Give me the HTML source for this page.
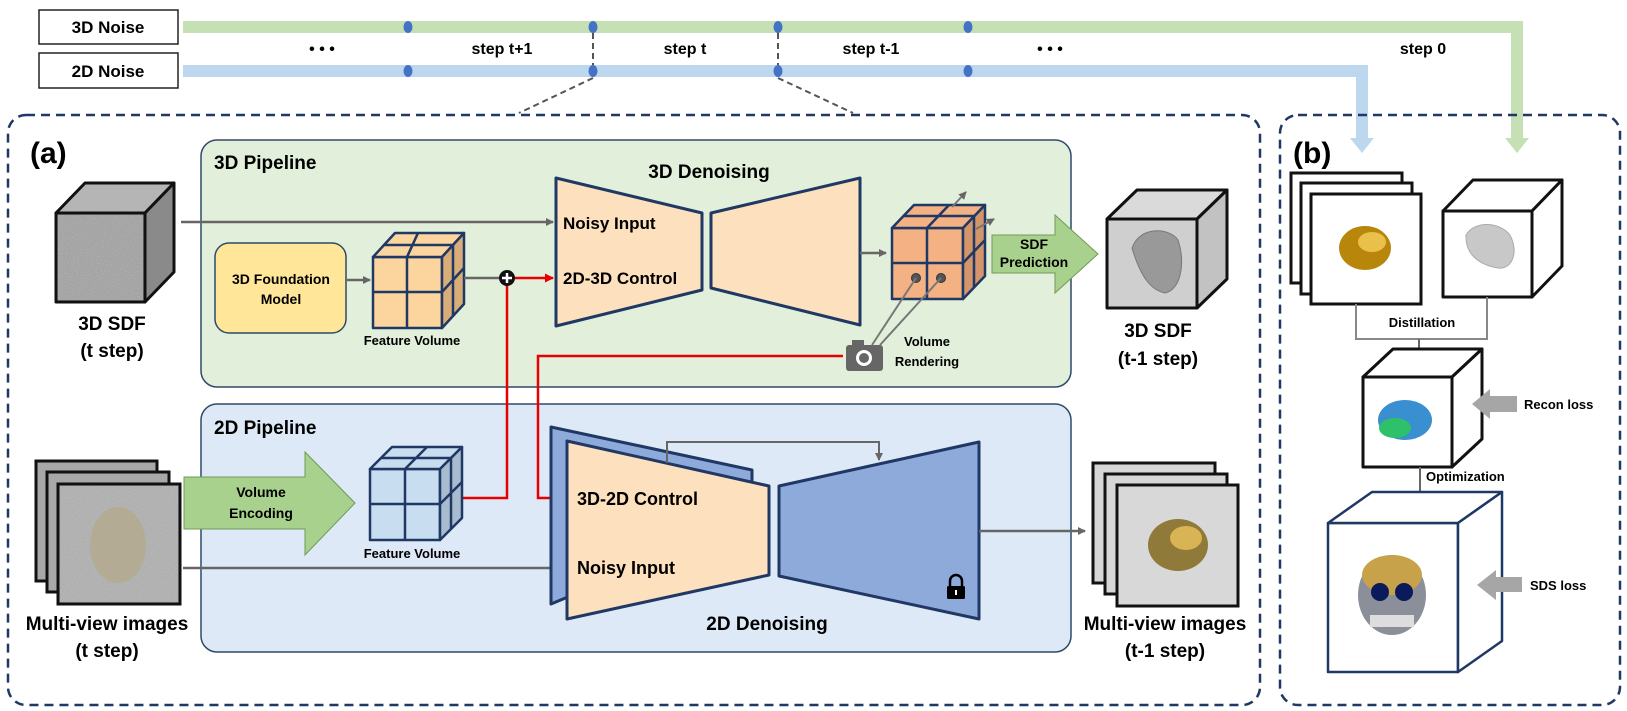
<!DOCTYPE html>
<html><head><meta charset="utf-8"><style>
html,body{margin:0;padding:0;background:#fff;}
svg{display:block;font-family:"Liberation Sans",sans-serif;font-weight:bold;}
</style></head><body>
<svg width="1627" height="711" viewBox="0 0 1627 711" xmlns="http://www.w3.org/2000/svg">
<defs>
<filter id="noise" x="0" y="0" width="100%" height="100%">
<feTurbulence type="fractalNoise" baseFrequency="0.9" numOctaves="2" seed="3"/>
<feColorMatrix type="matrix" values="0 0 0 0 0.55  0 0 0 0 0.55  0 0 0 0 0.55  0 0 0 -1.4 1.3"/>
</filter>
<marker id="ag" markerWidth="8" markerHeight="8" refX="7" refY="4" orient="auto" markerUnits="userSpaceOnUse"><path d="M0,0 L8,4 L0,8 z" fill="#666"/></marker>
<marker id="ar" markerWidth="9" markerHeight="9" refX="8" refY="4.5" orient="auto" markerUnits="userSpaceOnUse"><path d="M0,0 L9,4.5 L0,9 z" fill="#e60000"/></marker>
</defs>

<!-- timeline -->
<rect x="39" y="10" width="139" height="34" fill="#fff" stroke="#222" stroke-width="1.5"/>
<text x="108" y="33" font-size="17" text-anchor="middle">3D Noise</text>
<rect x="39" y="53" width="139" height="35" fill="#fff" stroke="#222" stroke-width="1.5"/>
<text x="108" y="77" font-size="17" text-anchor="middle">2D Noise</text>
<path d="M183,27 H1517 V140" fill="none" stroke="#c5e0b4" stroke-width="12"/>
<path d="M1505,138 L1529,138 L1517,153 z" fill="#c5e0b4"/>
<path d="M183,71 H1362 V140" fill="none" stroke="#bdd7ee" stroke-width="12"/>
<path d="M1350,138 L1374,138 L1362,153 z" fill="#bdd7ee"/>
<g fill="#4472c4">
<ellipse cx="408" cy="27" rx="4.5" ry="6"/><ellipse cx="593" cy="27" rx="4.5" ry="6"/><ellipse cx="778" cy="27" rx="4.5" ry="6"/><ellipse cx="968" cy="27" rx="4.5" ry="6"/>
<ellipse cx="408" cy="71" rx="4.5" ry="6"/><ellipse cx="593" cy="71" rx="4.5" ry="6"/><ellipse cx="778" cy="71" rx="4.5" ry="6"/><ellipse cx="968" cy="71" rx="4.5" ry="6"/>
</g>
<g stroke="#555" stroke-width="2" stroke-dasharray="6 4" fill="none">
<path d="M593,33 V65"/><path d="M778,33 V65"/>
<path d="M593,78 L519,113"/><path d="M778,78 L853,113"/>
</g>
<g font-size="16" text-anchor="middle">
<text x="322" y="54">• • •</text>
<text x="502" y="54">step t+1</text>
<text x="685" y="54">step t</text>
<text x="871" y="54">step t-1</text>
<text x="1050" y="54">• • •</text>
<text x="1423" y="54">step 0</text>
</g>

<!-- outer dashed boxes -->
<rect x="8" y="115" width="1252" height="590" rx="18" fill="none" stroke="#1f3864" stroke-width="2.5" stroke-dasharray="9 6"/>
<rect x="1280" y="115" width="340" height="590" rx="18" fill="none" stroke="#1f3864" stroke-width="2.5" stroke-dasharray="9 6"/>
<text x="30" y="163" font-size="30">(a)</text>
<text x="1293" y="163" font-size="30">(b)</text>

<!-- pipelines -->
<rect x="201" y="140" width="870" height="247" rx="16" fill="#e2efda" stroke="#2f4a6a" stroke-width="1.5"/>
<text x="214" y="169" font-size="19">3D Pipeline</text>
<rect x="201" y="404" width="870" height="248" rx="16" fill="#dde9f6" stroke="#2f4a6a" stroke-width="1.5"/>
<text x="214" y="434" font-size="19">2D Pipeline</text>

<!-- 3D SDF t cube -->
<g stroke="#111" stroke-width="3" stroke-linejoin="round">
<rect x="56" y="213" width="89" height="89" fill="#9a9a9a"/>
<path d="M56,213 L85,183 L174,183 L145,213 z" fill="#b5b5b5"/>
<path d="M145,213 L174,183 L174,272 L145,302 z" fill="#8a8a8a"/>
</g>
<rect x="58" y="215" width="85" height="85" filter="url(#noise)" opacity="0.5"/>
<text x="112" y="330" font-size="19" text-anchor="middle">3D SDF</text>
<text x="112" y="357" font-size="19" text-anchor="middle">(t step)</text>

<line x1="181" y1="222" x2="553" y2="222" stroke="#666" stroke-width="2.5" marker-end="url(#ag)"/>

<!-- foundation -->
<rect x="215" y="243" width="131" height="90" rx="14" fill="#ffe699" stroke="#2f4a6a" stroke-width="1.5"/>
<text x="281" y="284" font-size="14" text-anchor="middle">3D Foundation</text>
<text x="281" y="304" font-size="14" text-anchor="middle">Model</text>
<line x1="347" y1="280" x2="370" y2="280" stroke="#666" stroke-width="2.5" marker-end="url(#ag)"/>

<!-- feature cube 3D -->
<g stroke="#1f3864" stroke-width="2.5" stroke-linejoin="round">
<rect x="373" y="257" width="69" height="71" fill="#fcd59e"/>
<path d="M373,257 L395,233 L464,233 L442,257 z" fill="#fcd59e"/>
<path d="M442,257 L464,233 L464,304 L442,328 z" fill="#d9ad78"/>
<path d="M407,257 V328 M373,292 H442 M384,245 H453 M418,233 L407,257 M453,245 V316 M442,292 L464,268" fill="none"/>
</g>
<text x="412" y="345" font-size="13" text-anchor="middle">Feature Volume</text>
<line x1="464" y1="278" x2="500" y2="278" stroke="#666" stroke-width="2.5"/>

<!-- red lines -->
<g stroke="#e60000" stroke-width="2.5" fill="none">
<line x1="514" y1="278" x2="553" y2="278" marker-end="url(#ar)"/>
<path d="M507,285 V498 H462"/>
<path d="M843,356 H538 V498 H563" marker-end="url(#ar)"/>
</g>
<circle cx="507" cy="278" r="8" fill="#111"/>
<path d="M507,273 V283 M502,278 H512" stroke="#fff" stroke-width="2.5"/>

<!-- 3D denoising -->
<path d="M556,178 L702,213 L702,290 L556,326 z" fill="#fde0bd" stroke="#1f3864" stroke-width="3" stroke-linejoin="round"/>
<path d="M711,213 L860,178 L860,325 L711,288 z" fill="#fde0bd" stroke="#1f3864" stroke-width="3" stroke-linejoin="round"/>
<text x="709" y="178" font-size="19" text-anchor="middle">3D Denoising</text>
<text x="563" y="229" font-size="17">Noisy Input</text>
<text x="563" y="284" font-size="17">2D-3D Control</text>
<line x1="860" y1="253" x2="886" y2="253" stroke="#666" stroke-width="2.5" marker-end="url(#ag)"/>

<!-- orange cube -->
<g stroke="#1f3864" stroke-width="2.5" stroke-linejoin="round">
<rect x="892" y="228" width="71" height="71" fill="#f4b183"/>
<path d="M892,228 L914,205 L985,205 L963,228 z" fill="#f4b183"/>
<path d="M963,228 L985,205 L985,276 L963,299 z" fill="#d4956a"/>
<path d="M927,228 V299 M892,263 H963 M903,216 H974 M949,205 L927,228 M974,216 V287 M963,263 L985,240" fill="none"/>
</g>
<line x1="952" y1="207" x2="966" y2="192" stroke="#777" stroke-width="2" marker-end="url(#ag)"/>
<line x1="976" y1="229" x2="994" y2="219" stroke="#777" stroke-width="2" marker-end="url(#ag)"/>
<circle cx="916" cy="278" r="4.5" fill="#555" stroke="#333"/>
<circle cx="941" cy="278" r="4.5" fill="#555" stroke="#333"/>
<line x1="916" y1="278" x2="872" y2="345" stroke="#777" stroke-width="2"/>
<line x1="941" y1="278" x2="880" y2="345" stroke="#777" stroke-width="2"/>
<!-- camera -->
<rect x="846" y="345" width="37" height="26" rx="3" fill="#666"/>
<rect x="852" y="340" width="12" height="7" fill="#666"/>
<circle cx="864" cy="358" r="8" fill="#fff"/>
<circle cx="864" cy="358" r="5" fill="#666"/>
<text x="927" y="346" font-size="13" text-anchor="middle">Volume</text>
<text x="927" y="366" font-size="13" text-anchor="middle">Rendering</text>

<!-- SDF prediction arrow -->
<path d="M992,235 H1055 V215 L1098,254 L1055,293 V273 H992 z" fill="#a9d18e" stroke="#6e9a55" stroke-width="1"/>
<text x="1034" y="249" font-size="14" text-anchor="middle">SDF</text>
<text x="1034" y="267" font-size="14" text-anchor="middle">Prediction</text>

<!-- 3D SDF t-1 -->
<g stroke="#111" stroke-width="3" stroke-linejoin="round">
<rect x="1107" y="219" width="90" height="89" fill="#cfcfcf"/>
<path d="M1107,219 L1137,190 L1227,190 L1197,219 z" fill="#dadada"/>
<path d="M1197,219 L1227,190 L1227,279 L1197,308 z" fill="#c2c2c2"/>
</g>
<path d="M1132,248 C1140,225 1170,228 1178,240 C1186,265 1180,290 1165,293 C1150,290 1140,275 1132,248 z" fill="#999" stroke="#777"/>
<text x="1158" y="337" font-size="19" text-anchor="middle">3D SDF</text>
<text x="1158" y="365" font-size="19" text-anchor="middle">(t-1 step)</text>

<!-- multiview input stack -->
<g stroke="#111" stroke-width="3">
<rect x="36" y="461" width="121" height="120" fill="#a8a8a8"/>
<rect x="47" y="472" width="122" height="120" fill="#a8a8a8"/>
<rect x="58" y="484" width="122" height="120" fill="#a8a8a8"/>
</g>
<rect x="60" y="486" width="118" height="116" filter="url(#noise)" opacity="0.6"/>
<ellipse cx="118" cy="545" rx="28" ry="38" fill="#b5a57a" opacity="0.55"/>
<text x="107" y="630" font-size="19" text-anchor="middle">Multi-view images</text>
<text x="107" y="657" font-size="19" text-anchor="middle">(t step)</text>

<!-- volume encoding -->
<path d="M184,477 H305 V452 L355,503 L305,555 V529 H184 z" fill="#a9d18e" stroke="#6e9a55" stroke-width="1"/>
<text x="261" y="497" font-size="14" text-anchor="middle">Volume</text>
<text x="261" y="518" font-size="14" text-anchor="middle">Encoding</text>

<!-- feature cube 2D -->
<g stroke="#1f3864" stroke-width="2.5" stroke-linejoin="round">
<rect x="370" y="469" width="70" height="71" fill="#c9ddf0"/>
<path d="M370,469 L392,447 L462,447 L440,469 z" fill="#c9ddf0"/>
<path d="M440,469 L462,447 L462,518 L440,540 z" fill="#a9bccf"/>
<path d="M405,469 V540 M370,504 H440 M381,458 H451 M427,447 L405,469 M451,458 V529 M440,504 L462,482" fill="none"/>
</g>
<text x="412" y="558" font-size="13" text-anchor="middle">Feature Volume</text>

<line x1="183" y1="568" x2="563" y2="568" stroke="#666" stroke-width="2.5" marker-end="url(#ag)"/>

<!-- 2D denoising -->
<path d="M551,427 L752,470 L752,520 L551,604 z" fill="#8eaadb" stroke="#1f3864" stroke-width="3" stroke-linejoin="round"/>
<path d="M567,441 L769,486 L769,575 L567,619 z" fill="#fde0bd" stroke="#1f3864" stroke-width="3" stroke-linejoin="round"/>
<path d="M779,486 L979,442 L979,619 L779,576 z" fill="#8eaadb" stroke="#1f3864" stroke-width="3" stroke-linejoin="round"/>
<path d="M667,463 V442 H879 V460" fill="none" stroke="#666" stroke-width="2" marker-end="url(#ag)"/>
<text x="577" y="505" font-size="18">3D-2D Control</text>
<text x="577" y="574" font-size="18">Noisy Input</text>
<text x="767" y="630" font-size="19" text-anchor="middle">2D Denoising</text>
<!-- lock -->
<path d="M950,586 V581 A6,6 0 0 1 962,581 V586" fill="none" stroke="#000" stroke-width="2.5"/>
<rect x="947" y="586" width="18" height="13" rx="1.5" fill="#000"/>
<rect x="955" y="590" width="2" height="5" fill="#fff"/>
<line x1="979" y1="531" x2="1085" y2="531" stroke="#666" stroke-width="2.5" marker-end="url(#ag)"/>

<!-- output stack -->
<g stroke="#111" stroke-width="3">
<rect x="1093" y="463" width="122" height="120" fill="#d6d6d6"/>
<rect x="1105" y="474" width="122" height="120" fill="#d6d6d6"/>
<rect x="1117" y="485" width="121" height="121" fill="#dcdcdc"/>
</g>
<rect x="1119" y="487" width="117" height="117" filter="url(#noise)" opacity="0.25"/>
<ellipse cx="1178" cy="545" rx="30" ry="26" fill="#8f7a3a"/>
<ellipse cx="1186" cy="538" rx="16" ry="12" fill="#d8b454"/>
<text x="1165" y="630" font-size="19" text-anchor="middle">Multi-view images</text>
<text x="1165" y="657" font-size="19" text-anchor="middle">(t-1 step)</text>

<!-- (b) -->
<g stroke="#111" stroke-width="3">
<rect x="1291" y="173" width="111" height="110" fill="#fff"/>
<rect x="1301" y="183" width="111" height="111" fill="#fff"/>
<rect x="1311" y="194" width="110" height="110" fill="#fff"/>
</g>
<ellipse cx="1365" cy="248" rx="26" ry="22" fill="#b8860b"/>
<ellipse cx="1372" cy="242" rx="14" ry="10" fill="#e8c04a"/>
<g stroke="#111" stroke-width="3" stroke-linejoin="round">
<rect x="1443" y="211" width="89" height="86" fill="#fff"/>
<path d="M1443,211 L1473,180 L1562,180 L1532,211 z" fill="#fff"/>
<path d="M1532,211 L1562,180 L1562,266 L1532,297 z" fill="#fff"/>
</g>
<path d="M1466,235 C1475,220 1500,222 1510,235 C1520,255 1510,270 1498,268 C1480,265 1465,255 1466,235 z" fill="#c8c8c8" stroke="#aaa"/>
<path d="M1356,304 V339 H1487 V297" fill="none" stroke="#888" stroke-width="2"/>
<line x1="1419" y1="339" x2="1419" y2="364" stroke="#666" stroke-width="2" marker-end="url(#ag)"/>
<text x="1422" y="327" font-size="13" text-anchor="middle">Distillation</text>

<g stroke="#111" stroke-width="3" stroke-linejoin="round">
<rect x="1363" y="377" width="89" height="90" fill="#fff"/>
<path d="M1363,377 L1393,349 L1482,349 L1452,377 z" fill="#fff"/>
<path d="M1452,377 L1482,349 L1482,439 L1452,467 z" fill="#fff"/>
</g>
<ellipse cx="1405" cy="420" rx="27" ry="20" fill="#3a8fd0"/>
<ellipse cx="1395" cy="428" rx="16" ry="10" fill="#2fc06a"/>
<path d="M1517,396 H1490 V389 L1472,404 L1490,419 V412 H1517 z" fill="#a6a6a6"/>
<text x="1524" y="409" font-size="13">Recon loss</text>

<line x1="1420" y1="467" x2="1420" y2="513" stroke="#666" stroke-width="2" marker-end="url(#ag)"/>
<text x="1426" y="481" font-size="13">Optimization</text>

<g stroke="#1f3864" stroke-width="2.5" stroke-linejoin="round">
<rect x="1328" y="523" width="130" height="149" fill="#fff"/>
<path d="M1328,523 L1372,492 L1502,492 L1458,523 z" fill="#fff"/>
<path d="M1458,523 L1502,492 L1502,641 L1458,672 z" fill="#fff"/>
</g>
<ellipse cx="1392" cy="595" rx="34" ry="40" fill="#8a8f9a"/>
<ellipse cx="1392" cy="575" rx="30" ry="20" fill="#c8a24a"/>
<ellipse cx="1380" cy="592" rx="9" ry="9" fill="#0a1a5a"/>
<ellipse cx="1404" cy="592" rx="9" ry="9" fill="#0a1a5a"/>
<rect x="1370" y="615" width="44" height="12" fill="#ddd"/>
<path d="M1522,577 H1496 V570 L1477,585 L1496,600 V592 H1522 z" fill="#a6a6a6"/>
<text x="1530" y="590" font-size="13">SDS loss</text>
</svg>
</body></html>
